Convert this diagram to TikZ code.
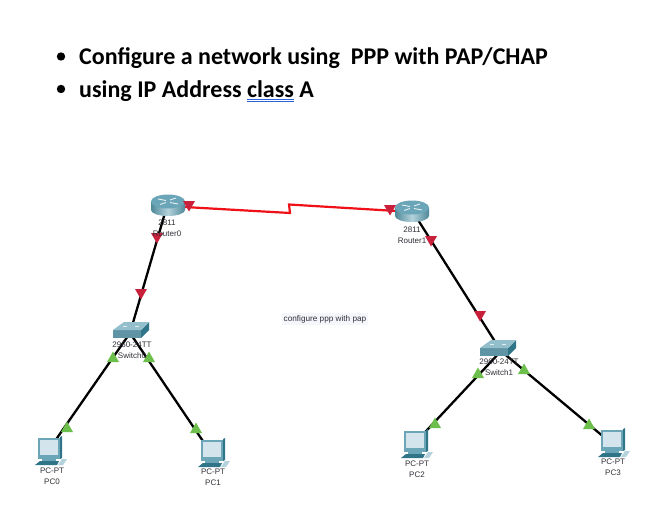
\documentclass[tikz,border=0pt]{standalone}
\usepackage{fontspec}
\setmainfont{Liberation Sans}
\newfontfamily\headfont{Carlito}
\usetikzlibrary{shapes.geometric}
\definecolor{linkred}{HTML}{F01018}
\definecolor{tipred}{HTML}{C8203A}
\definecolor{tipgreen}{HTML}{6CBF4A}
\definecolor{icondark}{HTML}{2F7487}
\definecolor{iconmid}{HTML}{6AA5B8}
\definecolor{iconlight}{HTML}{B4D2DC}
\definecolor{screen}{HTML}{D3E4EC}
\definecolor{ulblue}{HTML}{2A62D8}
\definecolor{notebg}{HTML}{F5F6FC}
\definecolor{labelgrey}{HTML}{303038}
\tikzset{
  x=1pt,y=-1pt,
  anchorbox/.style={minimum width=30pt,minimum height=20pt,inner sep=0pt},
  head/.style={anchor=base west,inner sep=0pt,font=\headfont\bfseries\fontsize{24}{28}\selectfont,text=black},
  dev/.style={inner sep=0pt,align=center,font=\fontsize{8}{11}\selectfont,text=labelgrey},
  cable/.style={draw=black,line width=2.3pt},
  serial/.style={draw=linkred,line width=2.2pt},
  note/.style={fill=notebg,inner sep=2pt,font=\fontsize{8.2}{10}\selectfont,text=labelgrey}
}
\newcommand{\redtip}[2]{\fill[tipred] (#1-6,#2-5) -- (#1+6,#2-5) -- (#1,#2+5.5) -- cycle;}
\newcommand{\greentip}[2]{\fill[tipgreen] (#1-6,#2+5) -- (#1+6,#2+5) -- (#1,#2-5.5) -- cycle;}
\newcommand{\routericon}[2]{%
  \begin{scope}[shift={(#1,#2)}]
    \path[left color=icondark!85!white,right color=icondark!85!white,middle color=iconlight]
      (-17,-4) -- (-17,4) arc[x radius=17,y radius=6,start angle=180,end angle=0] -- (17,-4) -- cycle;
    \fill[iconmid] (0,-4.5) ellipse[x radius=17,y radius=7];
    \draw[white!85!iconmid,line width=.9pt] (-10,-7) -- (-2,-5.5) (10,-2) -- (2,-3.5) (-8,-1.5) -- (-2,-3.5) (8,-8) -- (2,-6);
  \end{scope}}
\newcommand{\switchicon}[2]{%
  \begin{scope}[shift={(#1,#2)}]
    \fill[iconmid!90!black] (-19,-3) -- (9,-3) -- (9,5) -- (-19,5) -- cycle;
    \fill[icondark] (9,-3) -- (17,-11) -- (17,-3) -- (9,5) -- cycle;
    \fill[iconlight!55!iconmid] (-19,-3) -- (-8,-11) -- (17,-11) -- (9,-3) -- cycle;
    \draw[white!80!iconmid,line width=.5pt] (-9,-7) -- (-5,-7) (3,-7) -- (7,-7);
  \end{scope}}
\newcommand{\pcicon}[2]{%
  \begin{scope}[shift={(#1,#2)}]
    \fill[iconmid] (-10,-13) -- (12,-13) -- (12,8) -- (-10,8) -- cycle;
    \fill[icondark] (12,-14) -- (14,-15) -- (14,7) -- (12,8) -- cycle;
    \fill[screen] (-8,-11) -- (10,-11) -- (10,4) -- (-8,4) -- cycle;
    \fill[iconmid] (-6,8) -- (8,8) -- (8,10) -- (-6,10) -- cycle;
    \fill[icondark] (-13,14) -- (-8,10) -- (11,10) -- (9,14) -- cycle;
    \fill[iconlight] (10,14) -- (14,8) -- (19,8) -- (15,14) -- cycle;
  \end{scope}}
\begin{document}
\begin{tikzpicture}
\useasboundingbox (0,0) rectangle (668,522);
\fill[white] (0,0) rectangle (668,522);
% heading
\fill[black] (61,56.5) circle[radius=4.2];
\fill[black] (61,89) circle[radius=4.2];
\node[head] (line1) at (79,64) {Configure a network using\ \ PPP with PAP/CHAP};
\node[head] (line2) at (79,97) {using IP Address class A};
\draw[ulblue,line width=.6pt] (247,99.6) -- (294,99.6) (247,101.6) -- (294,101.6);
% anchors of devices
\node[anchorbox] (r0) at (167,206) {};
\node[anchorbox] (r1) at (413,212) {};
\node[anchorbox] (s0) at (130,333) {};
\node[anchorbox] (s1) at (501,351) {};
\node[anchorbox] (pc0) at (48,451) {};
\node[anchorbox] (pc1) at (211,453) {};
\node[anchorbox] (pc2) at (414,444) {};
\node[anchorbox] (pc3) at (611,443) {};
% cables
\draw[cable] (r0.center) -- (s0.center);
\draw[cable] (r1.center) -- (s1.center);
\draw[cable] (s0.center) -- (pc0.center);
\draw[cable] (s0.center) -- (pc1.center);
\draw[cable] (s1.center) -- (pc2.center);
\draw[cable] (s1.center) -- (pc3.center);
\draw[serial] (r0.center) -- (290,213) -- (289,204.5) -- (r1.center);
% icons
\routericon{168}{206}
\routericon{412}{212}
\switchicon{132}{333}
\switchicon{499}{351}
\pcicon{48}{451}
\pcicon{211}{453}
\pcicon{414}{444}
\pcicon{611}{443}
% tips
\redtip{189}{206}\redtip{157}{238}\redtip{141}{294}
\redtip{390}{210}\redtip{431}{241}\redtip{480}{316}
\greentip{113}{357}\greentip{149}{357}\greentip{67}{427}\greentip{196}{428}
\greentip{478}{373}\greentip{524}{369}\greentip{435}{423}\greentip{589}{424}
% labels
\node[dev] (lr0) at (167,228) {2811\\Router0};
\node[dev] (lr1) at (412,235) {2811\\Router1};
\node[dev] (ls0) at (132,350) {2960-24TT\\Switch0};
\node[dev] (ls1) at (499,367) {2960-24TT\\Switch1};
\node[dev] (lp0) at (52,476) {PC-PT\\PC0};
\node[dev] (lp1) at (213,477) {PC-PT\\PC1};
\node[dev] (lp2) at (417,469) {PC-PT\\PC2};
\node[dev] (lp3) at (613,467) {PC-PT\\PC3};
\node[note] (cfg) at (325,319) {configure ppp with pap};
\end{tikzpicture}
\end{document}
